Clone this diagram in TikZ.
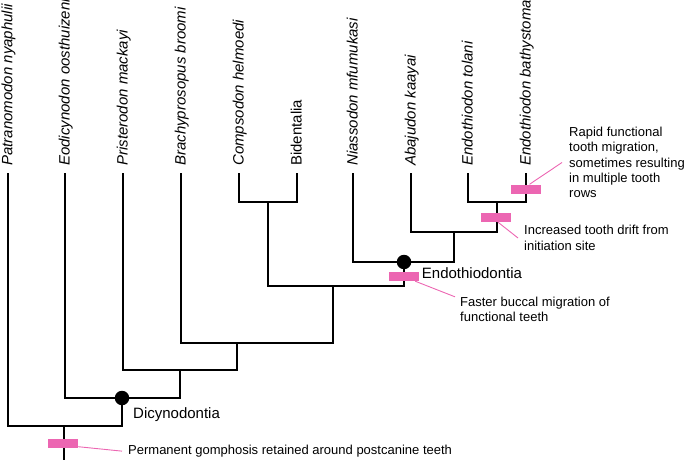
\documentclass[tikz,border=0pt]{standalone}
\usepackage{fontspec}
\setmainfont{Liberation Sans}
\definecolor{barpink}{RGB}{236,102,178}
\begin{document}
\begin{tikzpicture}[x=1pt,y=-1pt,
  tree/.style={line width=2.8pt, line join=miter},
  taxon/.style={rotate=90, anchor=base west, inner sep=0pt, font=\fontsize{15}{18}\selectfont\itshape},
  cladelabel/.style={anchor=base west, inner sep=0pt, font=\fontsize{15}{18}\selectfont},
  note/.style={anchor=west, inner sep=0pt, align=left, font=\fontsize{13}{15.4}\selectfont},
  bar/.style={fill=barpink, minimum width=30pt, minimum height=9pt, inner sep=0pt, draw=none},
  dot/.style={circle, fill=black, minimum size=14.5pt, inner sep=0pt},
  conn/.style={draw=barpink, line width=0.9pt}]
\useasboundingbox (0,0) rectangle (685,460);

% tips
\coordinate (tP)  at (8,173);
\coordinate (tE)  at (65,173);
\coordinate (tPr) at (123,173);
\coordinate (tB)  at (181,173);
\coordinate (tC)  at (239,173);
\coordinate (tBi) at (297,173);
\coordinate (tN)  at (353,173);
\coordinate (tA)  at (411,173);
\coordinate (tT)  at (468,173);
\coordinate (tBa) at (526,173);

% internal nodes
\coordinate (n1)    at (497,202);
\coordinate (n2)    at (454,232);
\coordinate (nEndo) at (404,262);
\coordinate (n3)    at (268,202);
\coordinate (n4)    at (333,286);
\coordinate (n5)    at (237,343);
\coordinate (n6)    at (180,370);
\coordinate (nDicy) at (122,398);
\coordinate (nRoot) at (64,426);
\coordinate (base)  at (64,462);

% taxon labels
\node[taxon] (sP)  at (12.5,166) {Patranomodon nyaphulii};
\node[taxon] (sE)  at (69.5,166) {Eodicynodon oosthuizeni};
\node[taxon] (sPr) at (127.5,166) {Pristerodon mackayi};
\node[taxon] (sB)  at (185.5,166) {Brachyprosopus broomi};
\node[taxon] (sC)  at (243.5,166) {Compsodon helmoedi};
\node[taxon,font=\fontsize{15}{18}\selectfont] (sBi) at (301.5,166) {Bidentalia};
\node[taxon] (sN)  at (357.5,166) {Niassodon mfumukasi};
\node[taxon] (sA)  at (415.5,166) {Abajudon kaayai};
\node[taxon] (sT)  at (472.5,166) {Endothiodon tolani};
\node[taxon] (sBa) at (530.5,166) {Endothiodon bathystoma};

% tree
\draw[tree] (tT) |- (n1) -| (tBa);
\draw[tree] (tA) |- (n2) -| (n1);
\draw[tree] (tN) |- (nEndo) -| (n2);
\draw[tree] (tC) |- (n3) -| (tBi);
\draw[tree] (n3) |- (n4) -| (nEndo);
\draw[tree] (tB) |- (n5) -| (n4);
\draw[tree] (tPr) |- (n6) -| (n5);
\draw[tree] (tE) |- (nDicy) -| (n6);
\draw[tree] (tP) |- (nRoot) -| (nDicy);
\draw[tree] (nRoot) -- (base);

% clade dots and labels
\node[dot] (dEndo) at (nEndo) {};
\node[dot] (dDicy) at (nDicy) {};
\node[cladelabel] (lDicy) at (133,418.3) {Dicynodontia};
\node[cladelabel] (lEndo) at (421.7,278.3) {Endothiodontia};

% annotation texts
\node[note,anchor=base west] (tRoot) at (128,454.5) {Permanent gomphosis retained around postcanine teeth};
\node[note] (tEndo)  at (460,309.5) {Faster buccal migration of\\functional teeth};
\node[note] (tDrift) at (524,238) {Increased tooth drift from\\initiation site};
\node[note] (tRapid) at (569,162.5) {Rapid functional\\tooth migration,\\sometimes resulting\\in multiple tooth\\rows};

% bars
\node[bar] (bRoot)  at (63,443.5) {};
\node[bar] (bEndo)  at (404,276.5) {};
\node[bar] (bDrift) at (496,217.5) {};
\node[bar] (bRapid) at (525.5,189) {};

% connectors
\draw[conn] ([yshift=1.5pt]bRoot.south east) -- ([xshift=-6pt]tRoot.west);
\draw[conn] ([xshift=-4pt]bEndo.south east) -- ([xshift=-5pt]tEndo.north west);
\draw[conn] ([xshift=2pt]bDrift.south) -- ([xshift=-6pt]tDrift.west);
\draw[conn] ([xshift=4pt]bRapid.north) -- ([xshift=-7pt]tRapid.west);
\end{tikzpicture}
\end{document}
